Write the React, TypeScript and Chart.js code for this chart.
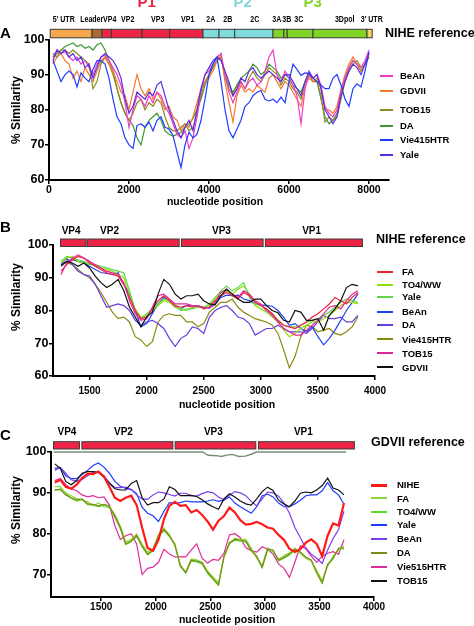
import React, { useEffect, useRef } from "react";
import { Chart, registerables } from "chart.js";

Chart.register(...registerables);

const FONT = "'Liberation Sans', Arial, Helvetica, sans-serif";

// ---------------- Panel A : NIHE reference, whole genome ----------------
const A_START = 100;
const A_STEP = 100;
const A_BEAN = [
  95, 97, 96, 96.5, 95, 94, 95, 93, 94, 92,
  90, 93, 95, 95.5, 94, 92, 90, 87, 82, 75,
  80, 84, 83, 81, 84, 82, 85, 84, 81, 79,
  76, 73, 72, 74, 69, 72, 78, 85, 90, 91,
  93, 95, 96, 90, 85, 82, 85, 88, 86, 88,
  89, 87, 88, 91, 95, 97, 90, 88, 91, 89,
  87, 84, 76, 86, 90, 89, 90, 87, 81, 79,
  78, 80, 85, 89, 92, 94, 93, 92, 94, 97,
];
const A_GDVII = [
  93, 95, 96, 94, 93, 89, 91, 88, 92, 90,
  88, 91, 94, 95, 93, 91, 88, 85, 84, 80,
  85, 90, 86, 84, 86, 83, 85, 83, 80, 81,
  78, 77, 74, 76, 75, 78, 82, 86, 88, 89,
  91, 94, 96, 88, 82, 76.5, 84, 87, 85, 86,
  85, 87, 86, 85, 89, 90, 88, 86, 88, 87,
  85, 83, 81, 87, 89, 88, 89, 86, 80, 80,
  79, 81, 86, 90, 93, 95, 93, 91, 93, 95,
];
const A_TOB15 = [
  95, 96, 97, 97, 96, 97, 96, 95, 94, 93,
  86, 88, 93, 95, 93, 90, 86, 82, 79, 77,
  79, 82, 83, 80, 82, 81, 83, 82, 78, 75,
  74, 74, 75, 76, 74, 75, 79, 84, 88, 90,
  92, 94, 95, 89, 86, 84, 87, 88, 86, 89,
  91, 89, 88, 90, 92, 91, 90, 87, 89, 88,
  86, 85, 83, 87, 90, 88, 88, 84, 76.5, 78,
  77, 78, 83, 88, 91, 93, 94, 92, 93, 95,
];
const A_DA = [
  96, 95, 97, 98, 98.5, 99, 98, 98.5, 97.5, 98,
  97, 98.5, 99, 97, 94, 91, 86, 82, 79, 77,
  75.5, 72, 70, 75, 77, 78, 79, 77, 74, 73,
  72.5, 73, 73.5, 75, 76, 77.5, 80, 83, 87, 90,
  92, 94, 95, 90, 87, 85, 87, 89, 90, 91,
  93, 92, 90, 91, 93, 92, 91, 89, 90, 89,
  87, 86, 85, 88, 90, 89, 88, 83, 78, 76,
  77, 79, 84, 89, 92, 94, 93, 91, 93, 95,
];
const A_VIE415 = [
  94, 91, 88, 90, 91, 90, 86.5, 90.5, 89, 88,
  91.5, 94, 94, 93, 89, 83, 78, 76, 72, 70,
  69, 75.5, 76, 75, 76.5, 74, 77, 78, 75, 74.5,
  72.7, 68, 63.5, 70, 73.6, 72, 73, 77, 83, 90,
  93, 95, 88, 80, 74, 72, 74.5, 77, 81, 82,
  84, 85, 85.5, 83, 82.5, 83, 82, 83.6, 82, 88,
  93, 91.5, 89.8, 90.5, 90.3, 89, 88, 87, 86, 86,
  89, 90, 87, 83, 81, 86, 87.4, 86.5, 91, 96.5,
];
const A_YALE = [
  94, 97, 96, 97, 95, 96, 94, 95, 92, 93,
  89, 92, 95, 96, 95, 94, 92, 89, 83, 79,
  81, 85, 84, 83, 85, 84, 87, 88, 84, 80,
  77, 74, 72, 75, 77, 74, 80, 86, 90, 92,
  94, 95, 94, 91, 88, 84, 86, 89, 88, 91,
  92, 90, 89, 90, 91, 90, 89, 88, 90, 90,
  88, 86, 84, 88, 91, 89, 90, 86, 80, 78,
  76, 78, 84, 88, 91, 93, 92, 90, 93, 96,
];
const A_SERIES = [
  { name: "BeAn", color: "#f03cc8", values: A_BEAN, order: 2 },
  { name: "GDVII", color: "#f47a30", values: A_GDVII, order: 3 },
  { name: "TOB15", color: "#8c8c20", values: A_TOB15, order: 4 },
  { name: "DA", color: "#3d9a35", values: A_DA, order: 5 },
  { name: "Vie415HTR", color: "#1f3cff", values: A_VIE415, order: 1 },
  { name: "Yale", color: "#5a2de0", values: A_YALE, order: 0 },
];
const A_GENES = [
  { from: 30, to: 1075, color: "#f5a94c" },
  { from: 1075, to: 1325, color: "#a86a32" },
  { from: 1325, to: 1560, color: "#ee2447" },
  { from: 1560, to: 2325, color: "#ee2447" },
  { from: 2325, to: 3017, color: "#ee2447" },
  { from: 3017, to: 3850, color: "#ee2447" },
  { from: 3850, to: 4250, color: "#80dcdc" },
  { from: 4250, to: 4643, color: "#80dcdc" },
  { from: 4643, to: 5600, color: "#80dcdc" },
  { from: 5600, to: 5870, color: "#80d426" },
  { from: 5870, to: 5955, color: "#80d426" },
  { from: 5955, to: 6600, color: "#80d426" },
  { from: 6600, to: 7950, color: "#80d426" },
  { from: 7950, to: 8080, color: "#f2d25a" },
];
const A_GENE_NAMES = ["5' UTR", "Leader", "VP4", "VP2", "VP3", "VP1", "2A", "2B", "2C", "3A", "3B", "3C", "3Dpol", "3' UTR"];
const A_GENE_AT = [368, 1068, 1518, 1968, 2718, 3468, 4043, 4468, 5143, 5693, 5943, 6243, 7393, 8068];
const A_REGION_NAMES = ["P1", "P2", "P3"];
const A_REGION_AT = [2443, 4843, 6593];
const A_REGION_COLORS = ["#ee2447", "#7fd9d9", "#80d426"];

// ---------------- Panel B : NIHE reference, P1 ----------------
const B_START = 1250;
const B_STEP = 50;
const B_FA = [
  92, 94, 95.5, 96.5, 96, 94.5,
  93.5, 92.5, 91.5, 91, 90.5, 88, 84, 80, 77.5, 78,
  80.5, 83, 84.5, 83, 81.5, 81, 81.5, 81, 81.5, 80.5,
  81, 83, 84.5, 85.5, 84.5, 83.5, 85.5, 84.5, 82.5, 81.5,
  80.5, 79, 77, 75.5, 75, 74.5, 75.5, 76.5, 78, 79,
  80.5, 82, 84, 83, 82, 84, 85.5,
];
const B_TO4 = [
  94.5, 96, 96.5, 95, 94.5, 94.5,
  93.5, 93, 92.5, 92, 91, 90, 85, 80.5, 78, 78.5,
  80, 81.5, 83, 82.5, 81, 80.5, 80, 81, 81.5, 80.5,
  81.5, 83.5, 85.5, 86, 85, 86.5, 87.5, 85, 81.5, 80.5,
  79.5, 78, 76.5, 74, 72, 73, 74.5, 75.5, 76.5, 76.5,
  77.5, 78.5, 80, 81.5, 82.5, 82.5, 82,
];
const B_YALE = [
  95, 96.5, 96, 95.5, 95, 94,
  94, 93.5, 93, 92.5, 92, 91.5, 86, 80, 77.5, 79,
  80.5, 82, 83.5, 83, 81.5, 80, 80.5, 80.5, 81, 81,
  82, 84, 86, 87.5, 86, 87, 88.5, 84, 82, 81.5,
  80, 79, 77, 75.5, 75, 75, 75.5, 76.5, 77, 77.5,
  78.5, 79.5, 81, 82.5, 83.5, 83, 82.5,
];
const B_BEAN = [
  94, 95, 95.5, 95, 94.6, 93.5,
  92.5, 91.6, 91.3, 91, 91.5, 88, 85, 80, 75, 76,
  79, 82, 84, 83, 81, 80.5, 81.5, 81.5, 81, 81,
  80.7, 82, 84, 84.7, 84.5, 84.7, 83.5, 83, 82, 81.7,
  81.5, 81.3, 80, 78, 75.5, 76, 74.5, 73.5, 75, 72,
  69.5, 71.5, 74, 77, 80, 82.5, 85,
];
const B_DA = [
  94, 96, 94, 92, 91, 90.5,
  88, 84.5, 81, 81.5, 82, 81.5, 80, 77, 75.5, 76.5,
  77, 76, 74.5, 71.5, 69, 71.5, 72.5, 75, 74.5, 73,
  78, 80, 81, 81.5, 80, 78, 77.5, 76, 72.5, 73.5,
  74.5, 74.5, 75.5, 74.5, 73.5, 73.5, 73.5, 73, 74.5, 76.5,
  78.5, 77.5, 77.5, 78, 76.5, 76.5, 78.5,
];
const B_VIE415 = [
  94.5, 94.6, 94, 92.5, 91, 90,
  88, 85.5, 82.5, 79.5, 77.5, 78, 76.5, 72, 71, 69,
  70.5, 76.5, 78.5, 79, 78.5, 78.5, 76.5, 76.5, 75, 76,
  79.5, 81, 82.5, 82.5, 83.5, 81, 79.5, 78.5, 77.5, 77,
  76.5, 75.5, 73, 68, 62.5, 66, 72, 75.5, 75, 73.5,
  74, 74.5, 73, 72.5, 73.5, 75, 78,
];
const B_TOB15 = [
  91, 94.5, 96, 97, 96, 95,
  94, 93, 92, 91.5, 91, 88.5, 83, 79, 77, 77.5,
  81, 84.5, 85, 83.5, 82, 82, 82, 81.5, 81.5, 81,
  80.8, 82.5, 85.5, 86.5, 85, 84, 86, 85, 83, 82,
  80, 78.5, 76.5, 74.5, 73.5, 72.5, 72.5, 74, 75.5, 77,
  79, 81, 81.5, 80.5, 83, 85, 86,
];
const B_GDVII = [
  93.5, 95, 94.5, 93.5, 94.5, 93,
  90.5, 88.5, 87, 88, 89.5, 86, 81, 78, 75, 78,
  79.5, 85, 89.5, 88, 85, 83.5, 84.5, 84.5, 85, 83,
  82, 81.7, 84.5, 86.5, 85, 83.5, 82.5, 82.5, 83.5, 83.5,
  81.5, 80, 79.3, 77, 76.5, 80, 79.5, 77, 77, 77.5,
  74, 78.5, 80.5, 83, 87, 88, 87.5,
];
const B_SERIES = [
  { name: "FA", color: "#f0203a", values: B_FA, order: 2 },
  { name: "TO4/WW", color: "#8ee000", values: B_TO4, order: 4 },
  { name: "Yale", color: "#5fd84a", values: B_YALE, order: 3 },
  { name: "BeAn", color: "#2244ee", values: B_BEAN, order: 5 },
  { name: "DA", color: "#6a3be0", values: B_DA, order: 6 },
  { name: "Vie415HTR", color: "#8a8a10", values: B_VIE415, order: 7 },
  { name: "TOB15", color: "#e0249a", values: B_TOB15, order: 1 },
  { name: "GDVII", color: "#111111", values: B_GDVII, order: 0 },
];
const CAPSID_RED = "#ee2447";
const B_GENES = [
  { from: 1246, to: 1470, color: CAPSID_RED },
  { from: 1480, to: 2285, color: CAPSID_RED },
  { from: 2305, to: 3020, color: CAPSID_RED },
  { from: 3040, to: 3890, color: CAPSID_RED },
];
const CAPSID_NAMES = ["VP4", "VP2", "VP3", "VP1"];
const B_GENE_AT = [1339, 1675, 2655, 3445];

// ---------------- Panel C : GDVII reference, P1 ----------------
const C_START = 1075;
const C_STEP = 50;
const C_NIHE = [
  92.5, 93.2, 91.5, 91, 92, 93.6, 94.7, 94.6, 95.2, 94,
  91.5, 88.8, 88, 88.8, 89.3, 87, 81.5, 76.5, 75.8, 78.5,
  83.5, 86.8, 87.8, 86.8, 87, 85.2, 85.8, 84.6, 83, 81,
  83.2, 84.3, 86.4, 85.2, 83.3, 82.2, 82.4, 82.9, 82.3, 81.5,
  81.2, 79.7, 78.5, 76.3, 75.5, 76.2, 77.8, 78.6, 77.5, 74.5,
  79.5, 82.5, 82, 87.5,
];
const C_FA = [
  91.5, 91.5, 90, 89.3, 88.6, 88.2, 87.8, 86.8, 87.5, 86.6,
  86.4, 84.8, 81.8, 78, 78.6, 79.9, 77.4, 75.5, 76.4, 79.8,
  81.4, 79.8, 77, 72.4, 70.6, 73.8, 73.6, 73, 70.8, 69.4,
  68, 74.2, 77.4, 78.9, 78.6, 78.6, 76.4, 74, 72.2, 76.5,
  75.6, 73.8, 74.6, 75.3, 76.5, 75.2, 74, 73.3, 71, 68.6,
  72, 74.5, 76, 77,
];
const C_TO4 = [
  90.5, 91, 89.7, 88.6, 88, 88.4, 87.1, 87, 86.6, 87,
  86.6, 84, 81.2, 77.3, 78, 79.3, 76.8, 74.8, 75.8, 79.2,
  80.8, 79.3, 77.2, 72.2, 70.3, 73.3, 73.1, 72.6, 70.3, 68.8,
  67.3, 74.3, 77.6, 78.4, 78.2, 78, 75.8, 74.3, 71.6, 76,
  75.8, 73.3, 74, 74.8, 76, 75.3, 74.1, 73.4, 70.3, 67.8,
  72.3, 73.8, 76.3, 76.3,
];
const C_YALE = [
  96, 96.2, 94.2, 93.5, 93.5, 94.5, 95.5, 96.7, 97.3, 96.3,
  94.8, 92.8, 91.6, 91.1, 90.8, 89.8, 86.5, 85, 84.4, 83,
  85.5, 87.6, 87.4, 87.6, 88, 87.8, 87.8, 87.8, 88, 88.3,
  87.9, 88.2, 89, 87.5, 86.6, 85.8, 85, 86.6, 89.3, 89.7,
  89, 87.5, 86.6, 86.6, 87.3, 88.2, 89.3, 89.5, 89.5, 90.5,
  92.5, 90.5, 89.5, 87.2,
];
const C_BEAN = [
  95.5, 96.2, 94.8, 93.2, 92.8, 93.3, 94.2, 95, 95, 94.2,
  92.5, 91.3, 91.3, 91.4, 90.8, 89.5, 88.5, 88.4, 89.5, 90.2,
  90, 89.6, 89.2, 89.9, 89.9, 89.3, 89.2, 89.8, 90.3, 90,
  89, 88.3, 89.4, 90.3, 90, 89.3, 87.9, 86.8, 88.5, 90.2,
  90, 89.2, 87.5, 85, 81.5, 79, 76.5, 75, 74, 72.7,
  76, 78.8, 81, 85.5,
];
const C_DA = [
  90.8, 90.8, 89.5, 88.8, 88.3, 88.5, 87.3, 87.2, 86.8, 87.2,
  86.8, 84.3, 81.5, 77.5, 78.2, 79.5, 77, 75, 76, 79.5,
  81, 79.5, 77.5, 72, 70.5, 73.5, 73.3, 72.8, 70.5, 69,
  67.5, 74.5, 77.8, 78.6, 78.4, 78.2, 76, 74.5, 71.8, 76.2,
  76, 73.5, 74.2, 75, 76.2, 75.5, 74.3, 73.6, 70.5, 68,
  72.5, 74, 76.5, 76.5,
];
const C_VIE515 = [
  93, 93.5, 92, 91, 90.5, 89.5, 89, 89.3, 88.8, 89,
  87, 82, 78.6, 79.5, 80, 77.5, 70, 71.5, 71.8, 73,
  76.2, 75, 74.3, 74.3, 74.3, 76, 77.5, 74, 72.8, 73.7,
  73.5, 75.2, 79.7, 80, 79, 76.6, 75.8, 75.5, 76.8, 76.2,
  75, 72.6, 71.5, 69.3, 73, 77, 76.3, 74.5, 73, 74.5,
  75.2, 75.6, 75, 78.5,
];
const C_TOB15 = [
  97.1, 96, 92.8, 92, 93, 94.8, 95.2, 95.2, 95, 93.8,
  92.3, 91, 90.7, 90.7, 92.3, 93, 88.8, 87, 87.6, 87.6,
  88.5, 91.5, 90.8, 89.3, 89.3, 89.4, 89.1, 88.3, 87.3, 86.6,
  86, 88.5, 89.8, 89, 88, 87.3, 87, 88.5, 90.3, 91.4,
  90.6, 88.2, 87.3, 86.6, 88, 89.9, 90.2, 90, 90.7, 91.8,
  93.6, 91.2, 90.7, 89.5,
];
const C_SERIES = [
  { name: "NIHE", color: "#ff1a1a", values: C_NIHE, order: 0, width: 2.2 },
  { name: "FA", color: "#8ed63a", values: C_FA, order: 5 },
  { name: "TO4/WW", color: "#55e030", values: C_TO4, order: 6 },
  { name: "Yale", color: "#1e3cff", values: C_YALE, order: 3 },
  { name: "BeAn", color: "#7a3ef0", values: C_BEAN, order: 2 },
  { name: "DA", color: "#7f8a14", values: C_DA, order: 4 },
  { name: "Vie515HTR", color: "#e02a9c", values: C_VIE515, order: 7 },
  { name: "TOB15", color: "#111111", values: C_TOB15, order: 1 },
];
// upper reference trace just under 100 %
const C_TOP_X = [1063, 2430, 2480, 2560, 2600, 2660, 2700, 2760, 2820, 2880, 2920, 3744];
const C_TOP_Y = [100, 100, 99.2, 99.1, 98.9, 99.3, 99.4, 98.9, 99.0, 99.5, 100, 100];
const C_GENES = [
  { from: 1063, to: 1301, color: CAPSID_RED },
  { from: 1323, to: 2157, color: CAPSID_RED },
  { from: 2178, to: 2917, color: CAPSID_RED },
  { from: 2941, to: 3820, color: CAPSID_RED },
];
const C_GENE_AT = [1186, 1704, 2528, 3353];

// ---------------- helpers ----------------
type Series = { name: string; color: string; values: number[]; order: number; width?: number };

function toDatasets(series: Series[], start: number, step: number) {
  return series.map((s) => ({
    label: s.name,
    data: s.values.map((y, i) => ({ x: start + i * step, y })),
    borderColor: s.color,
    backgroundColor: s.color,
    borderWidth: s.width ?? 1.2,
    pointRadius: 0,
    tension: 0,
    fill: false,
    order: s.order,
  }));
}

type Label = { text: string; at: number; y: number; font: string; color: string; squeeze?: number };

type Spec = {
  height: number;
  left: number;
  top: number;
  right: number;
  bottom: number;
  xMin: number;
  xMax: number;
  xTicks: number[];
  yMin: number;
  yMax: number;
  yTicks: number[];
  xTickSize: number;
  xTickPad: number;
  datasets: any[];
  genes: { from: number; to: number; color: string }[];
  barTop: number;
  barBottom: number;
  labels: Label[];
};

const SPEC_A: Spec = {
  height: 210,
  left: 49,
  top: 39.5,
  right: 389,
  bottom: 180,
  xMin: 0,
  xMax: 8500,
  xTicks: [0, 2000, 4000, 6000, 8000],
  yMin: 60,
  yMax: 100,
  yTicks: [60, 70, 80, 90, 100],
  xTickSize: 10.5,
  xTickPad: 0,
  datasets: toDatasets(A_SERIES, A_START, A_STEP),
  genes: A_GENES,
  barTop: 29.3,
  barBottom: 37.8,
  labels: [
    ...A_GENE_NAMES.map((t, i) => ({ text: t, at: A_GENE_AT[i], y: 20, font: `bold 9px ${FONT}`, color: "#000", squeeze: 0.78 })),
    ...A_REGION_NAMES.map((t, i) => ({ text: t, at: A_REGION_AT[i], y: 3, font: `bold 15px ${FONT}`, color: A_REGION_COLORS[i] })),
  ],
};

const SPEC_B: Spec = {
  height: 200,
  left: 53,
  top: 35,
  right: 375,
  bottom: 166,
  xMin: 1180,
  xMax: 4000,
  xTicks: [1500, 2000, 2500, 3000, 3500, 4000],
  yMin: 60,
  yMax: 100,
  yTicks: [60, 70, 80, 90, 100],
  xTickSize: 10,
  xTickPad: 5,
  datasets: toDatasets(B_SERIES, B_START, B_STEP),
  genes: B_GENES,
  barTop: 29,
  barBottom: 36.5,
  labels: CAPSID_NAMES.map((t, i) => ({ text: t, at: B_GENE_AT[i], y: 21.7, font: `bold 10px ${FONT}`, color: "#000" })),
};

const SPEC_C: Spec = {
  height: 216,
  left: 51,
  top: 42,
  right: 374,
  bottom: 187,
  xMin: 1040,
  xMax: 4000,
  xTicks: [1500, 2000, 2500, 3000, 3500, 4000],
  yMin: 64.5,
  yMax: 100,
  yTicks: [70, 80, 90, 100],
  xTickSize: 10,
  xTickPad: 0.5,
  datasets: [
    ...toDatasets(C_SERIES, C_START, C_STEP),
    {
      label: "ref",
      data: C_TOP_X.map((x, i) => ({ x, y: C_TOP_Y[i] })),
      borderColor: "#7d8b74",
      borderWidth: 1.4,
      pointRadius: 0,
      tension: 0,
      fill: false,
      order: 9,
      clip: 4,
    },
  ],
  genes: C_GENES,
  barTop: 31.7,
  barBottom: 39,
  labels: CAPSID_NAMES.map((t, i) => ({ text: t, at: C_GENE_AT[i], y: 22.3, font: `bold 10px ${FONT}`, color: "#000" })),
};

function PanelChart({ spec, top }: { spec: Spec; top: number }) {
  const ref = useRef<HTMLCanvasElement>(null);
  useEffect(() => {
    const canvas = ref.current;
    if (!canvas) return;
    const genePlugin = {
      id: "genes",
      afterDraw(chart: any) {
        const ctx = chart.ctx;
        const xs = chart.scales.x;
        ctx.save();
        const h = spec.barBottom - spec.barTop;
        spec.genes.forEach((g) => {
          const x1 = xs.getPixelForValue(g.from);
          const x2 = xs.getPixelForValue(g.to);
          ctx.fillStyle = g.color;
          ctx.fillRect(x1, spec.barTop, x2 - x1, h);
          ctx.strokeStyle = "#3a3a3a";
          ctx.lineWidth = 1;
          ctx.strokeRect(x1, spec.barTop, x2 - x1, h);
        });
        ctx.textAlign = "center";
        ctx.textBaseline = "middle";
        spec.labels.forEach((l) => {
          ctx.font = l.font;
          ctx.fillStyle = l.color;
          const px = xs.getPixelForValue(l.at);
          if (l.squeeze) {
            ctx.save();
            ctx.translate(px, l.y);
            ctx.scale(l.squeeze, 1);
            ctx.fillText(l.text, 0, 0);
            ctx.restore();
          } else {
            ctx.fillText(l.text, px, l.y);
          }
        });
        ctx.restore();
      },
    };
    const chart = new Chart(canvas, {
      type: "line",
      data: { datasets: spec.datasets },
      options: {
        animation: false,
        responsive: false,
        maintainAspectRatio: false,
        events: [],
        layout: { padding: { left: 0, top: spec.top, right: 474 - spec.right, bottom: 0 } },
        plugins: { legend: { display: false }, tooltip: { enabled: false } },
        scales: {
          x: {
            type: "linear",
            min: spec.xMin,
            max: spec.xMax,
            afterBuildTicks: (s: any) => {
              s.ticks = spec.xTicks.map((v) => ({ value: v }));
            },
            afterFit: (s: any) => {
              s.height = spec.height - spec.bottom;
            },
            grid: { display: true, drawOnChartArea: false, drawTicks: true, tickLength: 4, color: "#000", lineWidth: 1.5 },
            border: { display: true, color: "#000", width: 2 },
            ticks: {
              color: "#000",
              autoSkip: false,
              maxRotation: 0,
              padding: spec.xTickPad,
              font: { size: spec.xTickSize, weight: "bold", family: FONT },
              callback: (v: any) => String(v),
            },
          },
          y: {
            type: "linear",
            min: spec.yMin,
            max: spec.yMax,
            afterBuildTicks: (s: any) => {
              s.ticks = spec.yTicks.map((v) => ({ value: v }));
            },
            afterFit: (s: any) => {
              s.width = spec.left;
            },
            grid: { display: true, drawOnChartArea: false, drawTicks: true, tickLength: 4, color: "#000", lineWidth: 1.5 },
            border: { display: true, color: "#000", width: 2 },
            ticks: {
              color: "#000",
              autoSkip: false,
              padding: 0.5,
              font: { size: 12.5, weight: "bold", family: FONT },
              callback: (v: any) => String(v),
            },
          },
        },
      },
      plugins: [genePlugin],
    } as any);
    return () => chart.destroy();
  }, [spec]);
  return (
    <canvas
      ref={ref}
      width={474}
      height={spec.height}
      style={{ position: "absolute", left: 0, top, width: 474, height: spec.height, display: "block" }}
    />
  );
}

function Txt(props: { x: number; y: number; size: number; text: string; color?: string; center?: boolean; rotate?: boolean }) {
  const { x, y, size, text, color = "#000", center, rotate } = props;
  const base: React.CSSProperties = {
    position: "absolute",
    fontFamily: FONT,
    fontWeight: 700,
    fontSize: size,
    lineHeight: `${size}px`,
    whiteSpace: "nowrap",
    color,
  };
  if (rotate) {
    return <div style={{ ...base, left: x, top: y, transform: "translate(-50%, -50%) rotate(-90deg)" }}>{text}</div>;
  }
  if (center) {
    return <div style={{ ...base, left: x, top: y - size / 2, transform: "translateX(-50%)" }}>{text}</div>;
  }
  return <div style={{ ...base, left: x, top: y - size / 2 }}>{text}</div>;
}

function Legend(props: { series: Series[]; ys: number[]; x1: number; x2: number; tx: number; size: number }) {
  const { series, ys, x1, x2, tx, size } = props;
  return (
    <>
      {series.map((s, i) => {
        const w = s.width && s.width > 2 ? 3 : 2;
        return (
          <React.Fragment key={s.name}>
            <div style={{ position: "absolute", left: x1, top: ys[i] - w / 2, width: x2 - x1, height: w, background: s.color }} />
            <Txt x={tx} y={ys[i]} size={size} text={s.name} />
          </React.Fragment>
        );
      })}
    </>
  );
}

const A_LEG_Y = [76, 91, 110, 126, 140, 154.5];
const B_LEG_Y = [271.7, 285, 297, 311.7, 325, 339.3, 353.3, 367.3];
const C_LEG_Y = [485, 498.3, 511.7, 524.5, 539, 552.7, 566.7, 581];

export default function App() {
  return (
    <div style={{ position: "absolute", left: 0, top: 0, width: 474, height: 626, background: "#fff", overflow: "hidden" }}>
      <PanelChart spec={SPEC_A} top={0} />
      <PanelChart spec={SPEC_B} top={210} />
      <PanelChart spec={SPEC_C} top={410} />

      <Txt x={0} y={32} size={15} text="A" />
      <Txt x={0} y={226} size={15} text="B" />
      <Txt x={0} y={434} size={15} text="C" />

      <Txt x={385} y={33} size={12.5} text="NIHE reference" />
      <Txt x={376} y={239.5} size={12.5} text="NIHE reference" />
      <Txt x={371} y={442} size={12.5} text="GDVII reference" />

      <Txt x={16} y={110} size={12} text="% Similarity" rotate />
      <Txt x={16} y={297} size={12} text="% Similarity" rotate />
      <Txt x={16} y={510} size={12} text="% Similarity" rotate />

      <Txt x={215} y={201.5} size={10.5} text="nucleotide position" center />
      <Txt x={227} y={404} size={10.5} text="nucleotide position" center />
      <Txt x={227} y={619} size={10.5} text="nucleotide position" center />

      <Legend series={A_SERIES} ys={A_LEG_Y} x1={380} x2={393} tx={400} size={9.5} />
      <Legend series={B_SERIES} ys={B_LEG_Y} x1={377} x2={393} tx={402} size={9.5} />
      <Legend series={C_SERIES} ys={C_LEG_Y} x1={371} x2={387} tx={397} size={9.5} />
    </div>
  );
}
